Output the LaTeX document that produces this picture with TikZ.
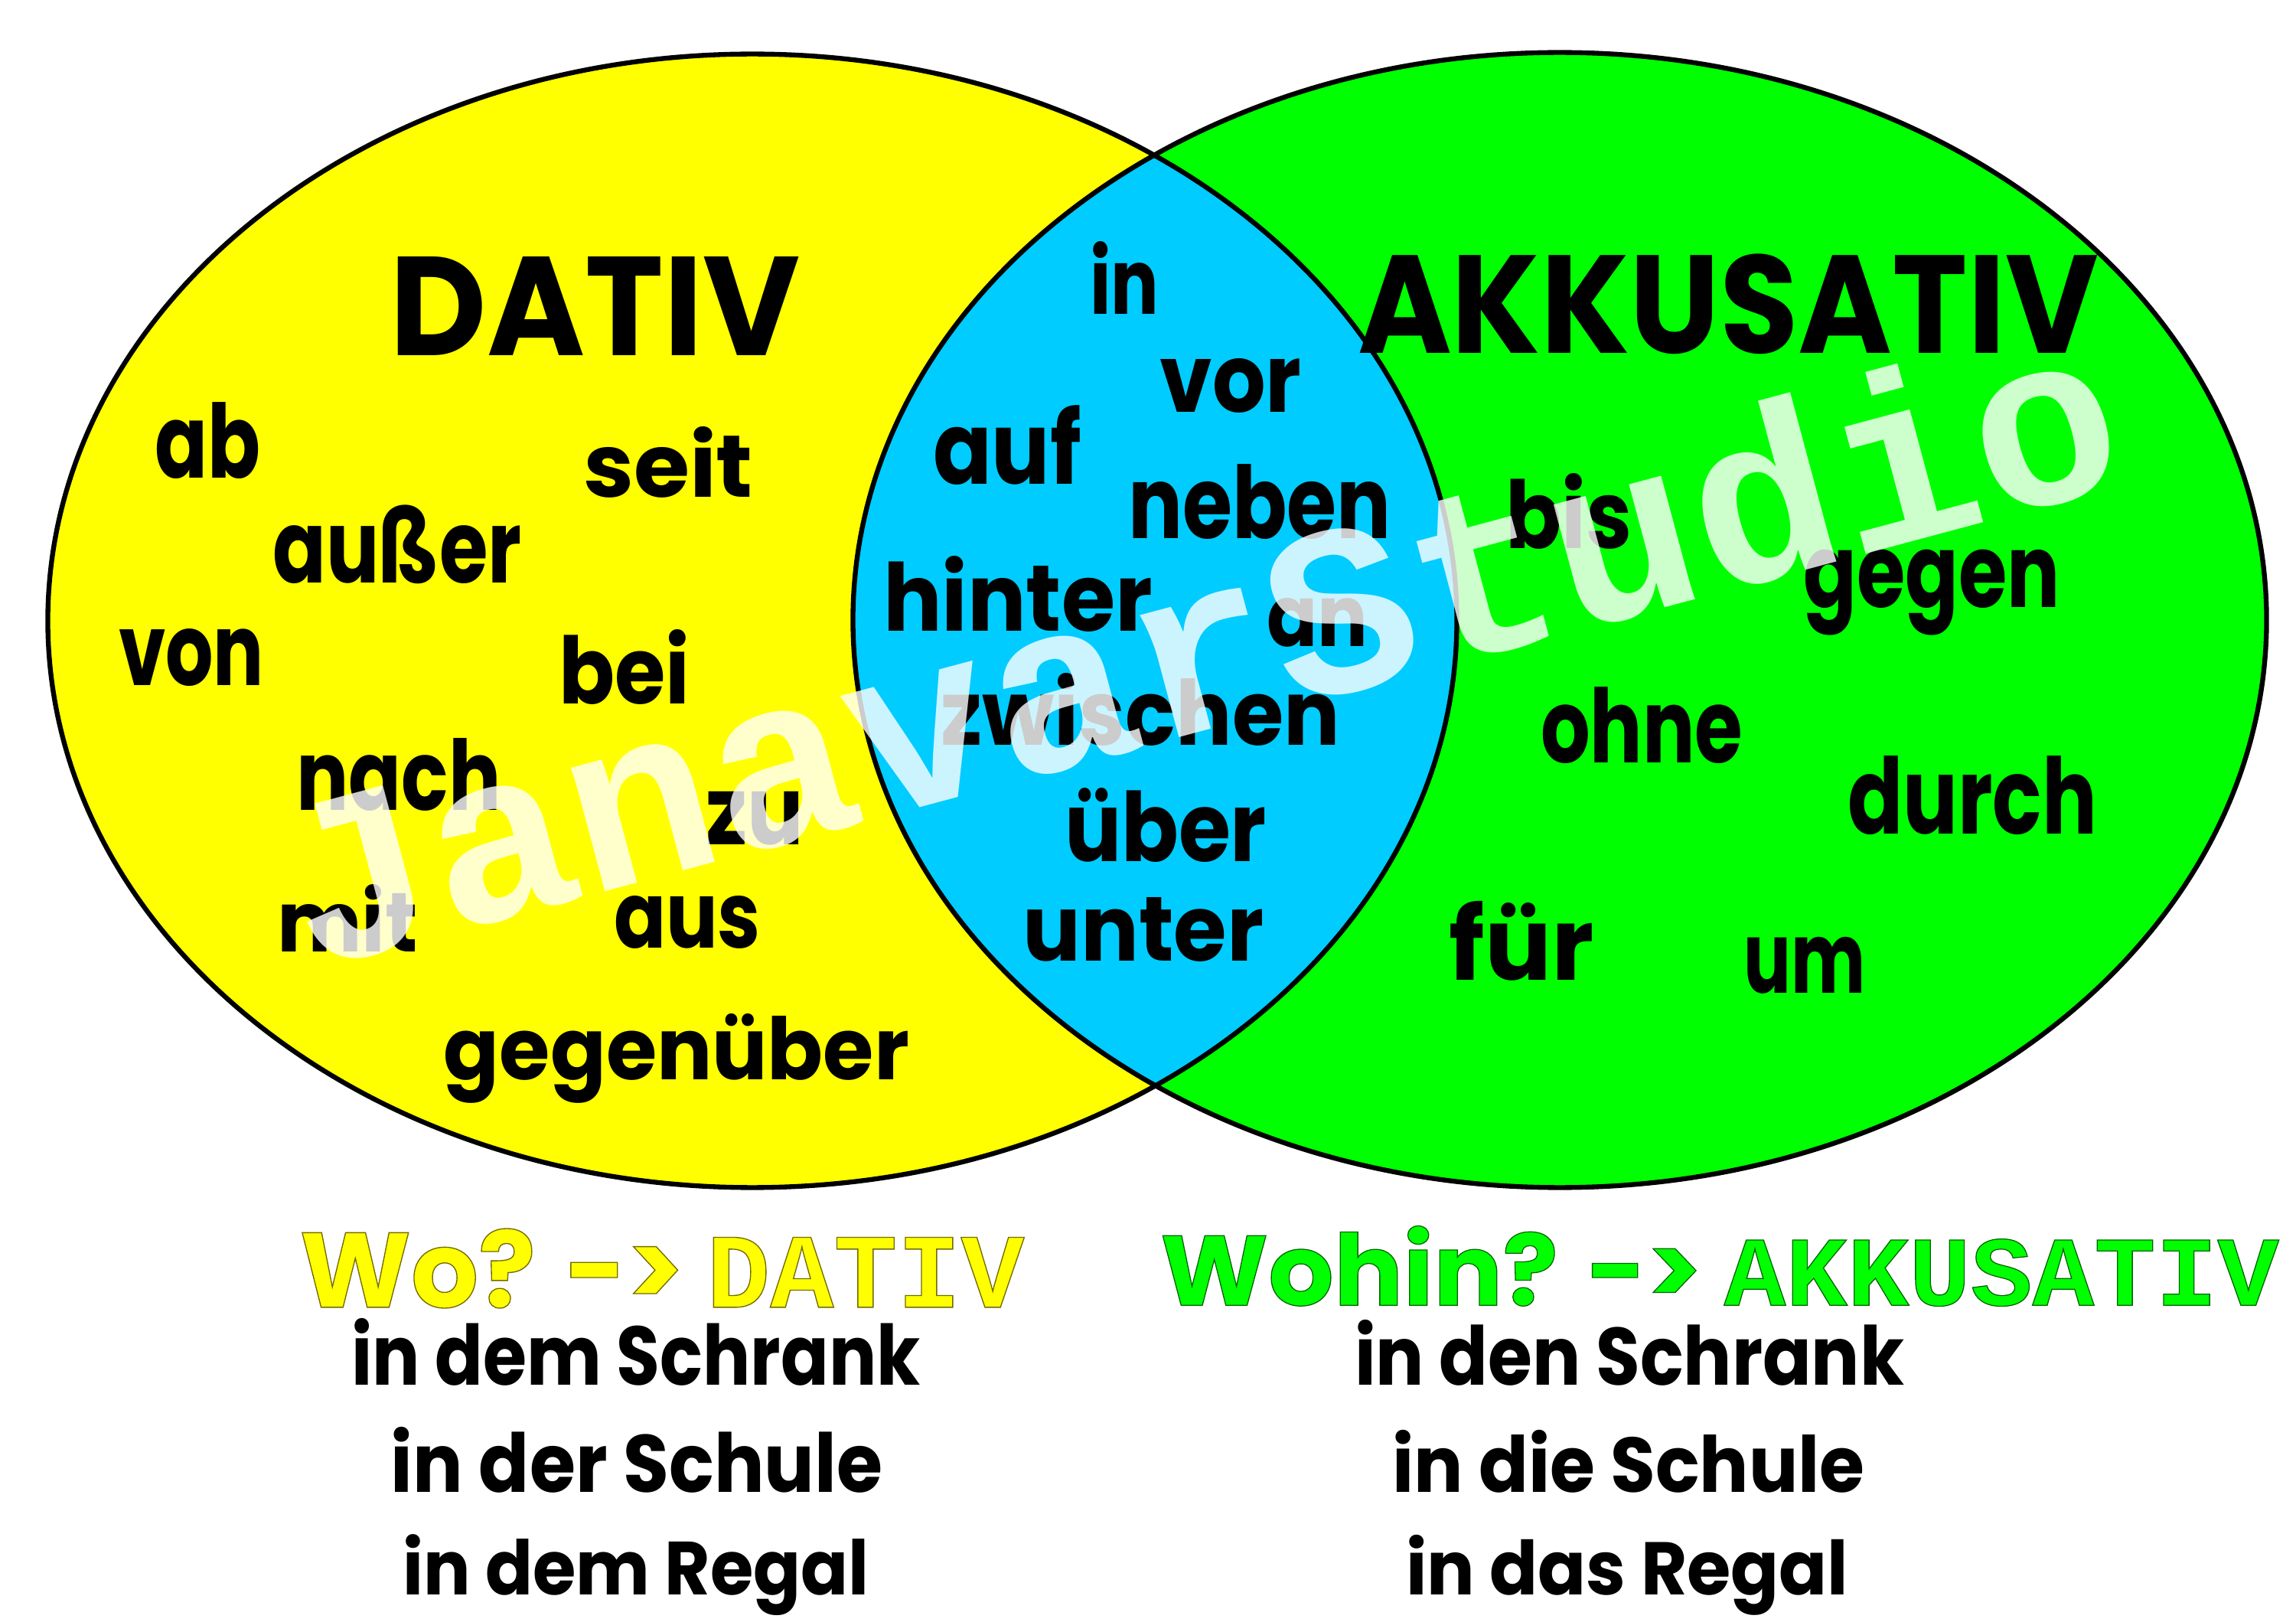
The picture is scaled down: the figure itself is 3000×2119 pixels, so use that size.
\documentclass[tikz,border=0pt]{standalone}
\usepackage{fontspec}
\usepackage{graphicx}
\setmainfont{Poppins}
\newfontfamily\monofam{Liberation Mono}
\newlength\pxu \setlength\pxu{0.01cm}
\newcommand\fitbox[3]{\resizebox*{#1\pxu}{#2\pxu}{#3}}
\newcommand\outl[2]{\special{pdf:literal direct 2 Tr #1 RG 0.35 w}#2\special{pdf:literal direct 0 Tr}}
\definecolor{vyellow}{HTML}{FFFF00}
\definecolor{vgreen}{HTML}{00FF00}
\definecolor{vcyan}{HTML}{00CCFF}
\begin{document}
\begin{tikzpicture}[x=0.01cm,y=-0.01cm,
  word/.style={inner sep=0pt,outer sep=0pt,font=\bfseries\fontsize{36}{36}\selectfont},
  venn/.style={line width=1.8pt,draw=black}]
\fill[white] (0,0) rectangle (3000,2119);
\useasboundingbox (0,0) rectangle (3000,2119);
% circles
\fill[vyellow] (983,811) ellipse [x radius=9.2cm, y radius=7.4cm];
\fill[vgreen] (2038,810) ellipse [x radius=9.23cm, y radius=7.41cm];
\begin{scope}
  \clip (983,811) ellipse [x radius=9.2cm, y radius=7.4cm];
  \fill[vcyan] (2038,810) ellipse [x radius=9.23cm, y radius=7.41cm];
\end{scope}
\draw[venn] (983,811) ellipse [x radius=9.2cm, y radius=7.4cm];
\draw[venn] (2038,810) ellipse [x radius=9.23cm, y radius=7.41cm];
% headings
\node[word] (dativ) at (778,400) {\fitbox{536}{129}{DATIV}};
\node[word] (akk) at (2258,397) {\fitbox{968}{131}{AKKUSATIV}};
% Dativ words
\node[word] (ab) at (272,576) {\fitbox{138}{100}{ab}};
\node[word] (seit) at (873,604) {\fitbox{222}{93}{seit}};
\node[word] (ausser) at (519,711) {\fitbox{325}{103}{außer}};
\node[word] (von) at (250,859) {\fitbox{190}{75}{von}};
\node[word] (bei) at (816,871) {\fitbox{171}{98}{bei}};
\node[word] (nach) at (521,1012) {\fitbox{267}{95}{nach}};
\node[word] (zu) at (986,1069) {\fitbox{128}{70}{zu}};
\node[word] (mit) at (454,1199) {\fitbox{184}{88}{mit}};
\node[word] (aus) at (898,1205) {\fitbox{192}{69}{aus}};
\node[word] (gegenueber) at (884,1383) {\fitbox{608}{117}{gegenüber}};
% both
\node[word] (in) at (1469,363) {\fitbox{90}{95}{in}};
\node[word] (vor) at (1608,504) {\fitbox{185}{71}{vor}};
\node[word] (auf) at (1316,582) {\fitbox{194}{104}{auf}};
\node[word] (neben) at (1646,656) {\fitbox{343}{98}{neben}};
\node[word] (hinter) at (1330,776) {\fitbox{352}{99}{hinter}};
\node[word] (an) at (1721,813) {\fitbox{132}{64}{an}};
\node[word] (zwischen) at (1490,927) {\fitbox{521}{95}{zwischen}};
\node[word] (ueber) at (1523,1078) {\fitbox{264}{97}{über}};
\node[word] (unter) at (1494,1214) {\fitbox{315}{84}{unter}};
% Akkusativ words
\node[word] (bis) at (2050,668) {\fitbox{165}{99}{bis}};
\node[word] (gegen) at (2524,774) {\fitbox{335}{112}{gegen}};
\node[word] (ohne) at (2145,948) {\fitbox{264}{100}{ohne}};
\node[word] (durch) at (2577,1039) {\fitbox{326}{103}{durch}};
\node[word] (fuer) at (1988,1229) {\fitbox{189}{104}{für}};
\node[word] (um) at (2358,1261) {\fitbox{159}{74}{um}};
% bottom
\node[word,text=vyellow] (wo) at (865,1657) {\fitbox{947}{104}{\outl{0.45 0.42 0}{Wo? -> {\monofam\bfseries DATIV}}}};
\node[word,text=vgreen] (wohin) at (2247,1654) {\fitbox{1462}{105}{\outl{0 0.4 0}{Wohin? -> {\monofam\bfseries AKKUSATIV}}}};
\node[word] (d1) at (831,1766) {\fitbox{743}{88}{in dem Schrank}};
\node[word] (d2) at (832,1907) {\fitbox{642}{86}{in der Schule}};
\node[word] (d3) at (831,2058) {\fitbox{609}{106}{in dem Regal}};
\node[word] (a1) at (2129,1767) {\fitbox{718}{86}{in den Schrank}};
\node[word] (a2) at (2128,1909) {\fitbox{617}{82}{in die Schule}};
\node[word] (a3) at (2126,2058) {\fitbox{578}{105}{in das Regal}};
% watermark
\node[inner sep=0pt,rotate=15,text=white,text opacity=0.8,
  font=\monofam\bfseries\fontsize{90}{90}\selectfont] (wm) at (1566,840) {JanavarStudio};
\end{tikzpicture}
\end{document}
